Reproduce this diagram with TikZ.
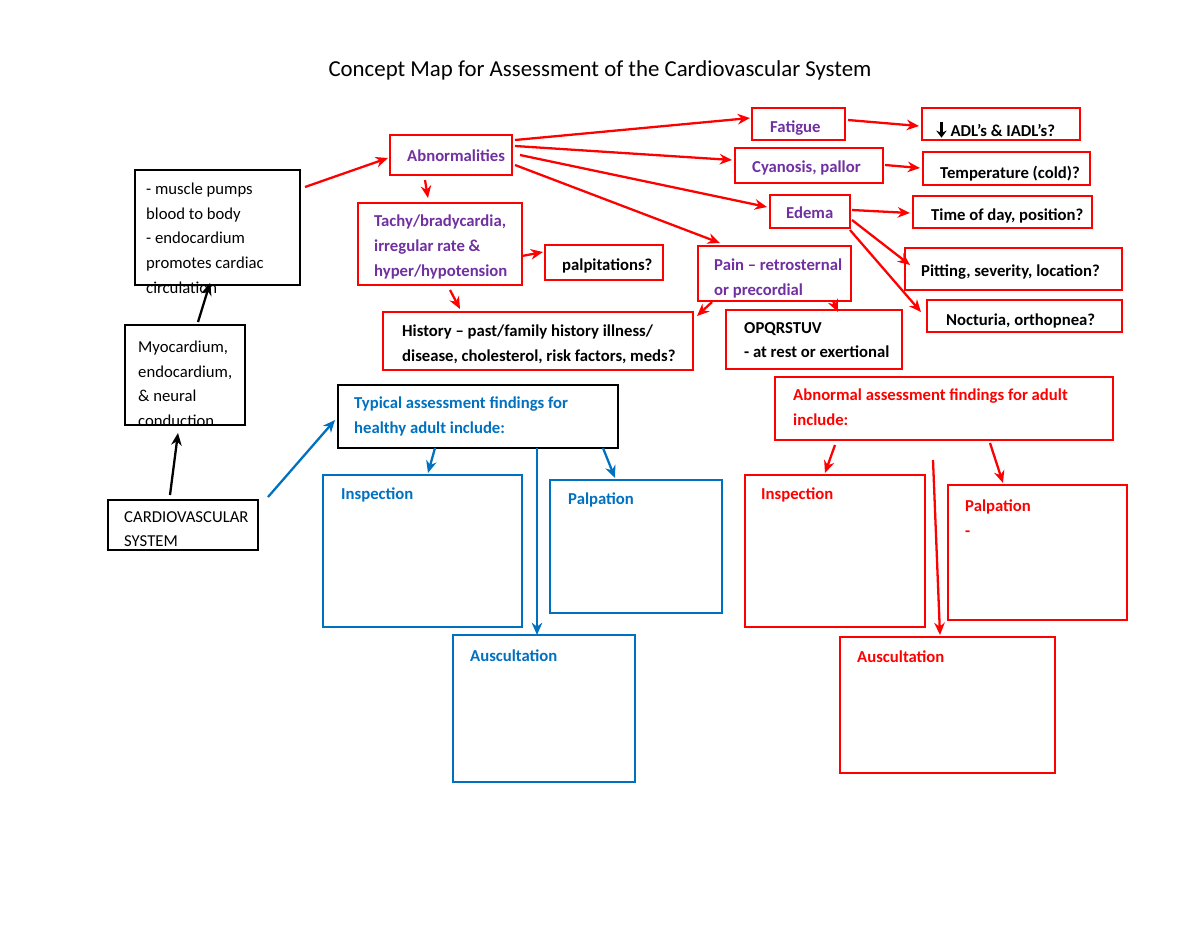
\documentclass[tikz,border=0pt]{standalone}
\usepackage{fontspec}
\setmainfont{Carlito}
\usetikzlibrary{arrows.meta}
\definecolor{rd}{RGB}{255,0,0}
\definecolor{pu}{RGB}{112,48,160}
\definecolor{bl}{RGB}{0,112,192}
\begin{document}
\begin{tikzpicture}[x=0.02cm,y=-0.02cm,
 bx/.style={draw,line width=1.3pt},
 rb/.style={bx,draw=rd},
 bb/.style={bx,draw=bl},
 kb/.style={bx,draw=black},
 t/.style={anchor=north west,align=left,font=\fontsize{9.5}{14}\selectfont\bfseries},
 tn/.style={anchor=north west,align=left,font=\fontsize{9.5}{14}\selectfont},
 ra/.style={draw=rd,line width=1.3pt,-{Stealth[length=7pt,width=6pt]}},
 ba/.style={draw=bl,line width=1.3pt,-{Stealth[length=7pt,width=6pt]}},
 ka/.style={draw=black,line width=1.3pt,-{Stealth[length=7pt,width=6pt]}}]
\useasboundingbox (0,0) rectangle (1200,927);
\node[font=\fontsize{13}{15}\selectfont] (title) at (600,70) {Concept Map for Assessment of the Cardiovascular System};
% black boxes
\draw[kb] (135,170) rectangle (300,285); \node[tn] (mp) at (140,177) {- muscle pumps\\blood to body\\- endocardium\\promotes cardiac\\circulation};
\draw[kb] (125,325) rectangle (245,425); \node[tn] (my) at (132,335) {Myocardium,\\endocardium,\\\& neural\\conduction};
\draw[kb] (108,500) rectangle (258,550); \node[tn] (cv) at (118,505) {CARDIOVASCULAR\\SYSTEM};
% red/purple boxes
\draw[rb] (390,135) rectangle (512,175); \node[t,text=pu] (ab) at (401,144) {Abnormalities};
\draw[rb] (358,203) rectangle (522,285); \node[t,text=pu] (ta) at (368,209) {Tachy/bradycardia,\\irregular rate \&\\hyper/hypotension};
\draw[rb] (545,245) rectangle (663,280); \node[t] (pa) at (556,253) {palpitations?};
\draw[rb] (383,312) rectangle (693,370); \node[t] (hi) at (396,319) {History – past/family history illness/\\disease, cholesterol, risk factors, meds?};
\draw[rb] (752,108) rectangle (845,140); \node[t,text=pu] (fa) at (764,115) {Fatigue};
\draw[rb] (735,148) rectangle (883,183); \node[t,text=pu] (cy) at (746,155) {Cyanosis, pallor};
\draw[rb] (770,195) rectangle (850,228); \node[t,text=pu] (ed) at (780,201) {Edema};
\draw[rb] (698,246) rectangle (851,301); \node[t,text=pu] (pn) at (708,253) {Pain – retrosternal\\or precordial};
\draw[rb] (726,310) rectangle (902,369); \node[t] (op) at (738,316) {OPQRSTUV\\- at rest or exertional};
\draw[rb] (922,108) rectangle (1080,140); \node[t] (adl) at (930,114) {\tikz[x=1cm,y=1cm,baseline=0pt]{\draw[line width=1.6pt,-{Stealth[length=4pt,width=6pt]}] (0,0.3)--(0,-0.02);} ADL’s \& IADL’s?};
\draw[rb] (923,152) rectangle (1090,185); \node[t] (te) at (934,160) {Temperature (cold)?};
\draw[rb] (913,196) rectangle (1092,228); \node[t] (td) at (925,203) {Time of day, position?};
\draw[rb] (905,248) rectangle (1122,290); \node[t] (pi) at (915,259) {Pitting, severity, location?};
\draw[rb] (927,300) rectangle (1122,332); \node[t] (no) at (940,308) {Nocturia, orthopnea?};
% typical
\draw[kb] (338,385) rectangle (618,448); \node[t,text=bl] (ty) at (348,391) {Typical assessment findings for\\healthy adult include:};
\draw[bb] (323,475) rectangle (522,627); \node[t,text=bl] (bi) at (335,482) {Inspection};
\draw[bb] (550,480) rectangle (722,613); \node[t,text=bl] (bp) at (562,487) {Palpation};
\draw[bb] (453,635) rectangle (635,782); \node[t,text=bl] (ba) at (464,644) {Auscultation};
% abnormal
\draw[rb] (775,377) rectangle (1113,440); \node[t,text=rd] (an) at (787,383) {Abnormal assessment findings for adult\\include:};
\draw[rb] (745,475) rectangle (925,627); \node[t,text=rd] (ri) at (755,482) {Inspection};
\draw[rb] (948,485) rectangle (1127,620); \node[t,text=rd] (rp) at (959,494) {Palpation\\-};
\draw[rb] (840,637) rectangle (1055,773); \node[t,text=rd] (ra) at (851,645) {Auscultation};
% arrows
\coordinate (k1) at (170,495); \coordinate (k2) at (178,433);
\coordinate (k3) at (198,322); \coordinate (k4) at (210,283);
\draw[ka] (k1) -- (k2); \draw[ka] (k3) -- (k4);
\coordinate (b1) at (268,497); \coordinate (b2) at (335,420); \draw[ba] (b1) -- (b2);
\coordinate (r1) at (305,187); \coordinate (r2) at (388,158); \draw[ra] (r1) -- (r2);
\draw[ra] (515,140) -- (750,118);
\draw[ra] (515,146) -- (732,160);
\draw[ra] (520,155) -- (767,207);
\draw[ra] (515,165) -- (720,243);
\draw[ra] (425,180) -- (428,198);
\draw[ra] (522,256) -- (543,252);
\draw[ra] (450,290) -- (460,309);
\draw[ra] (712,302) -- (697,316);
\draw[ra] (833,301) -- (838,312);
\draw[ra] (848,120) -- (919,126);
\draw[ra] (885,165) -- (920,168);
\draw[ra] (852,210) -- (910,213);
\draw[ra] (852,220) -- (910,265);
\draw[ra] (850,230) -- (921,312);
\draw[ba] (435,448) -- (428,473);
\draw[ba] (537,448) -- (537,635);
\draw[ba] (603,448) -- (615,478);
\draw[ra] (835,445) -- (825,473);
\draw[ra] (990,443) -- (1003,483);
\draw[ra] (933,460) -- (940,635);
\end{tikzpicture}
\end{document}
